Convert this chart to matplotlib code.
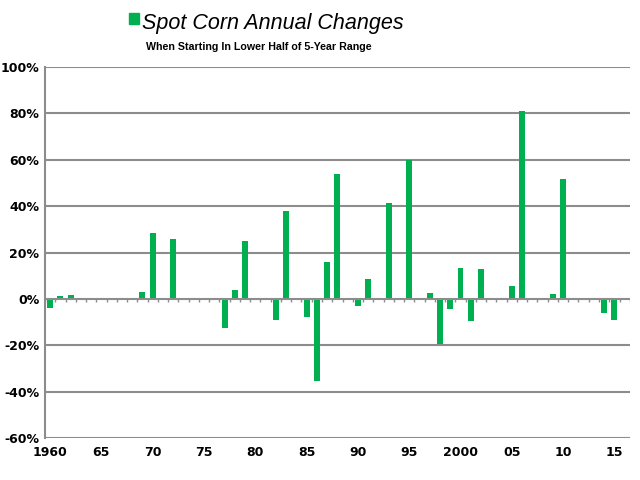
import matplotlib
matplotlib.use('Agg')
import matplotlib.pyplot as plt
import matplotlib.patches as mpatches
import numpy as np

years = list(range(1960, 2017))
changes = [-4, 1.4, 1.8, 0, 0, 0, 0, 0, -0.5, 3,
           28.3, 0, 25.7, 0, 0, 0, 0, -12.7, 3.7, 24.9,
           0, 0, -9.3, 37.8, 0, -7.6, -35.5, 15.8, 53.9, 0,
           -3, 8.5, 0, 41.2, 0, 60, 0, 2.7, -19.4, -4.3,
           13.5, -9.6, 12.8, 0, 0, 5.6, 80.9, 0, 0, 2,
           51.9, 0, 0, 0, -5.9, -9.1, 0]
yticks = [-60, -40, -20, 0, 20, 40, 60, 80, 100]

def year_label(y):
    if y % 5 != 0:
        return ''
    if y == 1960 or y == 2000:
        return str(y)
    return '%02d' % (y % 100)

green = '#00b050'
grey = '#8c8c8c'

fig = plt.figure(figsize=(6.4, 4.8), dpi=100)
ax = fig.add_axes([0.0703, 0.0875, 0.9137, 0.7729])

x = np.arange(len(years))
ax.bar(x, changes, width=0.58, color=green, zorder=3)

ax.set_xlim(-0.5, len(years) - 0.5)
ax.set_ylim(-60, 100)
ax.set_yticks(yticks)
ax.set_yticklabels(['%d%%' % v for v in yticks], fontsize=9, fontweight='bold')
for v in yticks:
    if v != 0:
        ax.axhline(v, color=grey, lw=1.5, zorder=1)
ax.axhline(0, color=grey, lw=1.5, zorder=4)
ax.vlines(np.arange(len(years) + 1) - 0.5, -1.3, 0, color=grey, lw=1, zorder=4)

ax.set_xticks(x)
ax.set_xticklabels([year_label(y) for y in years], fontsize=9, fontweight='bold')
ax.tick_params(axis='x', length=0, pad=6)
ax.tick_params(axis='y', length=0, pad=4)

for s in ['top', 'right', 'bottom']:
    ax.spines[s].set_visible(False)
ax.spines['left'].set_color(grey)
ax.spines['left'].set_linewidth(1.5)

# title with green square marker
fig.patches.append(mpatches.Rectangle((0.2016, 0.95), 0.0156, 0.0229, color=green,
                                      transform=fig.transFigure, figure=fig))
fig.text(0.427, 0.952, 'Spot Corn Annual Changes', fontsize=15.5, style='italic',
         family='Liberation Sans', ha='center', va='center')
fig.text(0.404, 0.903, 'When Starting In Lower Half of 5-Year Range', fontsize=7.7,
         fontweight='bold', family='Liberation Sans', ha='center', va='center')

fig.savefig('out.png', dpi=100)
